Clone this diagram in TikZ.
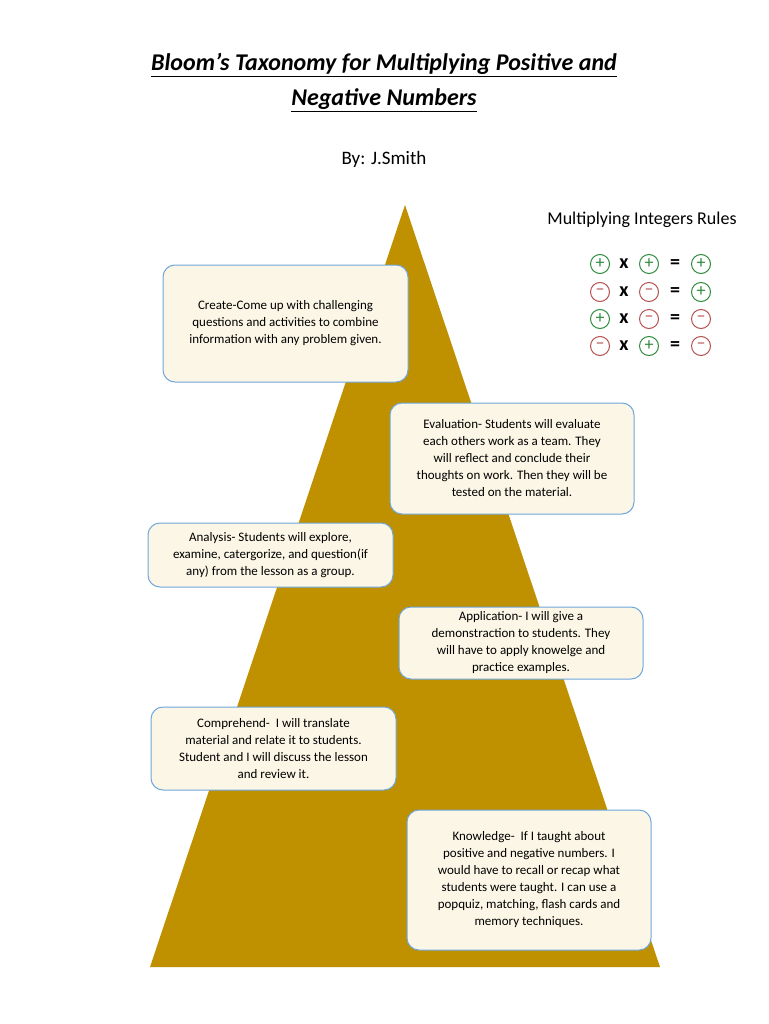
\documentclass[tikz,border=0pt]{standalone}
\usepackage{fontspec}
\setmainfont{Carlito}
\begin{document}
\begin{tikzpicture}[x=1pt,y=-1pt,
  tb/.style={draw=boxblue,line width=1pt,fill=cream,rounded corners=12pt,align=center,font=\fontsize{13}{17}\selectfont,inner sep=3pt},
  pl/.style={circle,draw=pgreen,line width=1pt,minimum size=19pt,inner sep=0pt,text=pgreen,font=\fontsize{18}{18}\selectfont},
  mi/.style={circle,draw=mred,line width=1pt,minimum size=19pt,inner sep=0pt,text=mred,font=\fontsize{18}{18}\selectfont},
  op/.style={font=\fontsize{20}{20}\selectfont\bfseries}]
\definecolor{gold}{HTML}{BF9000}
\definecolor{cream}{HTML}{FBF6E6}
\definecolor{boxblue}{HTML}{6FA8DC}
\definecolor{pgreen}{HTML}{2E8B3E}
\definecolor{mred}{HTML}{B5504F}
\useasboundingbox (0,0) rectangle (768,1024);
\fill[white] (0,0) rectangle (768,1024);
\node (t1) at (384,65) {\fontsize{24}{28}\selectfont\bfseries\itshape\underline{Bloom’s Taxonomy for Multiplying Positive and}};
\node (t2) at (384,100) {\fontsize{24}{28}\selectfont\bfseries\itshape\underline{Negative Numbers}};
\node (by) at (384,159) {\fontsize{19}{22}\selectfont By: J.Smith};
\fill[gold] (405,205) -- (660,967) -- (150,967) -- cycle;
\node[tb,minimum width=245pt,minimum height=117pt] (c) at (285.5,323.5) {Create-Come up with challenging\\questions and activities to combine\\information with any problem given.};
\node[tb,minimum width=244pt,minimum height=111pt] (e) at (512,458.5) {Evaluation- Students will evaluate\\each others work as a team. They\\will reflect and conclude their\\thoughts on work. Then they will be\\tested on the material.};
\node[tb,minimum width=245pt,minimum height=64pt] (a) at (270.5,555) {Analysis- Students will explore,\\examine, catergorize, and question(if\\any) from the lesson as a group.};
\node[tb,minimum width=244pt,minimum height=72pt] (ap) at (521,643) {Application- I will give a\\demonstraction to students. They\\will have to apply knowelge and\\practice examples.};
\node[tb,minimum width=245pt,minimum height=83pt] (co) at (273.5,748.5) {Comprehend-\ \ I will translate\\material and relate it to students.\\Student and I will discuss the lesson\\and review it.};
\node[tb,minimum width=244pt,minimum height=140pt] (k) at (529,880) {Knowledge-\ \ If I taught about\\positive and negative numbers. I\\would have to recall or recap what\\students were taught. I can use a\\popquiz, matching, flash cards and\\memory techniques.};
\node (rt) at (642,220) {\fontsize{18}{20}\selectfont Multiplying Integers Rules};
\foreach \y/\a/\b/\c [count=\i] in {264/pl/pl/pl,292/mi/mi/pl,319/pl/mi/mi,346/mi/pl/mi}{
  \node[\a] (r\i a) at (600,\y) {\ifx\a\mystr\fi\ifnum\pdfstrcmp{\a}{pl}=0 +\else\raisebox{1pt}{--}\fi};
  \node[op] (r\i x) at (624,\y) {x};
  \node[\b] (r\i b) at (649,\y) {\ifnum\pdfstrcmp{\b}{pl}=0 +\else\raisebox{1pt}{--}\fi};
  \node[op] (r\i e) at (675,\y) {=};
  \node[\c] (r\i c) at (701,\y) {\ifnum\pdfstrcmp{\c}{pl}=0 +\else\raisebox{1pt}{--}\fi};
}
\end{tikzpicture}
\end{document}
